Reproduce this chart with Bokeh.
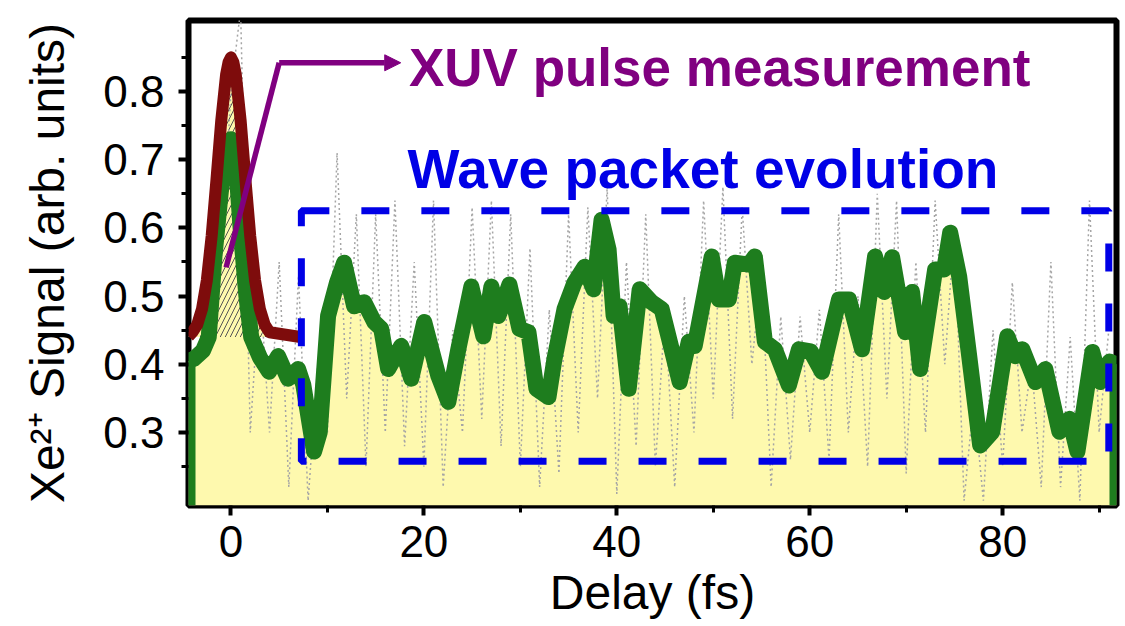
from bokeh.plotting import figure
from bokeh.models import Range1d, FixedTicker, Arrow, NormalHead, Label
from bokeh.embed import file_html
from bokeh.resources import INLINE

# ---------------- data ----------------
delay = [-4.4, -3.84, -2.9, -2.3, -1.7, -1.0, -0.4, 0.0, 0.5, 1.0, 1.6, 2.1, 3.0, 3.95,
         4.88, 5.92, 6.96, 7.5, 8.62, 9.2, 10.07, 11.0, 11.73, 12.77, 13.81, 14.85, 15.58,
         16.3, 17.65, 18.69, 20.04, 21.5, 22.54, 23.57, 24.92, 26.17, 27.0, 27.73, 28.87,
         29.91, 30.84, 31.67, 32.92, 33.54, 34.58, 35.62, 36.66, 37.59, 38.42, 39.15, 39.67,
         40.29, 41.23, 42.37, 43.61, 44.65, 45.69, 46.52, 47.46, 48.08, 49.84, 50.57, 51.61,
         52.23, 53.69, 54.31, 55.35, 56.39, 57.84, 58.88, 60.1, 61.27, 63.03, 64.07, 65.42,
         66.77, 67.71, 68.54, 69.89, 70.61, 71.44, 73.0, 73.94, 74.56, 75.49, 76.53, 77.67,
         78.92, 80.48, 81.31, 82.04, 83.39, 84.42, 85.88, 86.92, 87.75, 89.3, 90.13, 91.07, 91.8]
signal = [0.405, 0.408, 0.42, 0.44, 0.56, 0.66, 0.72, 0.73, 0.70, 0.60, 0.50, 0.44, 0.41, 0.389,
          0.412, 0.379, 0.393, 0.37, 0.272, 0.30, 0.471, 0.52, 0.549, 0.485, 0.491, 0.462, 0.452,
          0.393, 0.427, 0.379, 0.462, 0.383, 0.345, 0.422, 0.514, 0.441, 0.514, 0.471, 0.517,
          0.452, 0.447, 0.364, 0.352, 0.408, 0.481, 0.520, 0.543, 0.510, 0.612, 0.568, 0.471,
          0.485, 0.364, 0.510, 0.491, 0.481, 0.422, 0.374, 0.433, 0.427, 0.558, 0.495, 0.495,
          0.549, 0.546, 0.558, 0.433, 0.422, 0.369, 0.422, 0.419, 0.389, 0.495, 0.495, 0.422,
          0.558, 0.506, 0.557, 0.447, 0.506, 0.393, 0.539, 0.539, 0.593, 0.529, 0.412, 0.281,
          0.301, 0.441, 0.412, 0.422, 0.374, 0.393, 0.301, 0.320, 0.272, 0.418, 0.374, 0.404, 0.40]

raw_delay = list(range(-4, 92))
raw_signal = [0.40, 0.42, 0.44, 0.55, 0.80, 0.92, 0.30, 0.52, 0.30, 0.55, 0.22, 0.53, 0.20, 0.40,
              0.30, 0.71, 0.35, 0.62, 0.25, 0.62, 0.30, 0.64, 0.28, 0.55, 0.25, 0.64, 0.22, 0.45,
              0.30, 0.63, 0.32, 0.64, 0.28, 0.62, 0.25, 0.57, 0.22, 0.48, 0.24, 0.62, 0.30, 0.63,
              0.35, 0.66, 0.21, 0.55, 0.28, 0.62, 0.25, 0.48, 0.22, 0.50, 0.30, 0.64, 0.35, 0.66,
              0.32, 0.63, 0.40, 0.54, 0.22, 0.47, 0.26, 0.47, 0.30, 0.48, 0.26, 0.62, 0.30, 0.50,
              0.25, 0.65, 0.35, 0.64, 0.24, 0.55, 0.30, 0.64, 0.40, 0.60, 0.20, 0.35, 0.20, 0.45,
              0.25, 0.52, 0.30, 0.40, 0.22, 0.55, 0.22, 0.44, 0.20, 0.64, 0.30, 0.45]

pulse_delay = [-4.4, -4.0, -3.5, -3.0, -2.5, -2.0, -1.5, -1.0, -0.5, -0.25, 0.0, 0.25, 0.5,
               1.0, 1.5, 2.0, 2.5, 3.0, 3.5, 4.0, 7.2]
pulse_signal = [0.441, 0.447, 0.458, 0.481, 0.523, 0.588, 0.671, 0.758, 0.825, 0.843, 0.85,
                0.843, 0.825, 0.758, 0.671, 0.588, 0.523, 0.481, 0.458, 0.447, 0.44]
pulse_base = 0.44

x_ticks = [0, 20, 40, 60, 80]
x_minor = [10, 30, 50, 70, 90]
y_ticks = [0.3, 0.4, 0.5, 0.6, 0.7, 0.8]
y_minor = [0.25, 0.35, 0.45, 0.55, 0.65, 0.75, 0.85]

box_x = [7.3, 91.0]
box_y = [0.258, 0.625]
arrow_x = [-0.5, 5.0, 17.6]
arrow_y = [0.542, 0.842, 0.842]
xuv_text = "XUV pulse measurement"
wave_text = "Wave packet evolution"

# ---------------- figure ----------------
X0, X1 = -4.4, 91.8
Y0, Y1 = 0.193, 0.904
p = figure(width=1125, height=626, x_range=Range1d(X0, X1), y_range=Range1d(Y0, Y1),
           output_backend="svg", toolbar_location=None,
           min_border_left=188, min_border_right=9, min_border_top=20, min_border_bottom=121)
p.grid.visible = False
p.background_fill_color = "white"
p.border_fill_color = "white"
p.outline_line_color = "black"
p.outline_line_width = 6

YELLOW = "#FEF9AE"
GREEN = "#1E7D1E"
RED = "#7E0C0C"
BLUE = "#0000E6"
PURPLE = "#800080"

p.varea(x=delay, y1=Y0, y2=signal, fill_color=YELLOW)
p.varea(x=pulse_delay, y1=pulse_base, y2=pulse_signal, fill_color=YELLOW,
        hatch_pattern="/", hatch_color="#555555", hatch_weight=1, hatch_scale=10)
p.line(raw_delay, raw_signal, line_color="#a5a5a5", line_width=1.5, line_dash="2 3")
p.line(delay, signal, line_color=GREEN, line_width=16, line_join="round", line_cap="round")
p.segment(x0=[delay[0], delay[-1]], y0=[Y0, Y0], x1=[delay[0], delay[-1]],
          y1=[signal[0], signal[-1]], line_color=GREEN, line_width=14)
p.line(pulse_delay, pulse_signal, line_color=RED, line_width=12, line_join="round")
p.quad(left=box_x[0], right=box_x[1], bottom=box_y[0], top=box_y[1], fill_alpha=0,
       line_color=BLUE, line_width=7, line_dash="28 32")

p.line(arrow_x[:2], arrow_y[:2], line_color=PURPLE, line_width=5.5)
p.add_layout(Arrow(end=NormalHead(size=16, fill_color=PURPLE, line_color=PURPLE),
                   x_start=arrow_x[1], y_start=arrow_y[1], x_end=arrow_x[2], y_end=arrow_y[2],
                   line_color=PURPLE, line_width=5.5))

p.add_layout(Label(x=18.45, y=0.835, text=xuv_text, text_color=PURPLE,
                   text_font="Liberation Sans", text_font_style="bold",
                   text_font_size="53px", text_baseline="alphabetic"))
p.add_layout(Label(x=18.3, y=0.686, text=wave_text, text_color=BLUE,
                   text_font="Liberation Sans", text_font_style="bold",
                   text_font_size="55px", text_baseline="alphabetic"))

# ---------------- axes ----------------
p.xaxis.ticker = FixedTicker(ticks=x_ticks, minor_ticks=x_minor)
p.yaxis.ticker = FixedTicker(ticks=y_ticks, minor_ticks=y_minor)
p.yaxis.formatter.use_scientific = False
p.xaxis.axis_label = "Delay (fs)"
p.yaxis.axis_label = "Xe\u00b2\u207a Signal (arb. units)"
for ax in (p.xaxis[0], p.yaxis[0]):
    ax.axis_line_color = None
    ax.major_tick_in = 0
    ax.major_tick_out = 10
    ax.major_tick_line_width = 4
    ax.major_tick_line_color = "black"
    ax.minor_tick_in = 0
    ax.minor_tick_out = 7
    ax.minor_tick_line_width = 3
    ax.minor_tick_line_color = "black"
    ax.major_label_text_font = "Liberation Sans"
    ax.major_label_text_font_size = "44px"
    ax.major_label_text_color = "black"
    ax.axis_label_text_font = "Liberation Sans"
    ax.axis_label_text_font_size = "48px"
    ax.axis_label_text_font_style = "normal"
    ax.axis_label_text_color = "black"
p.xaxis.major_label_standoff = 10
p.yaxis.major_label_standoff = 14
p.xaxis.axis_label_standoff = 6
p.yaxis.axis_label_standoff = 26

open("out.html", "w").write(file_html(p, INLINE))
